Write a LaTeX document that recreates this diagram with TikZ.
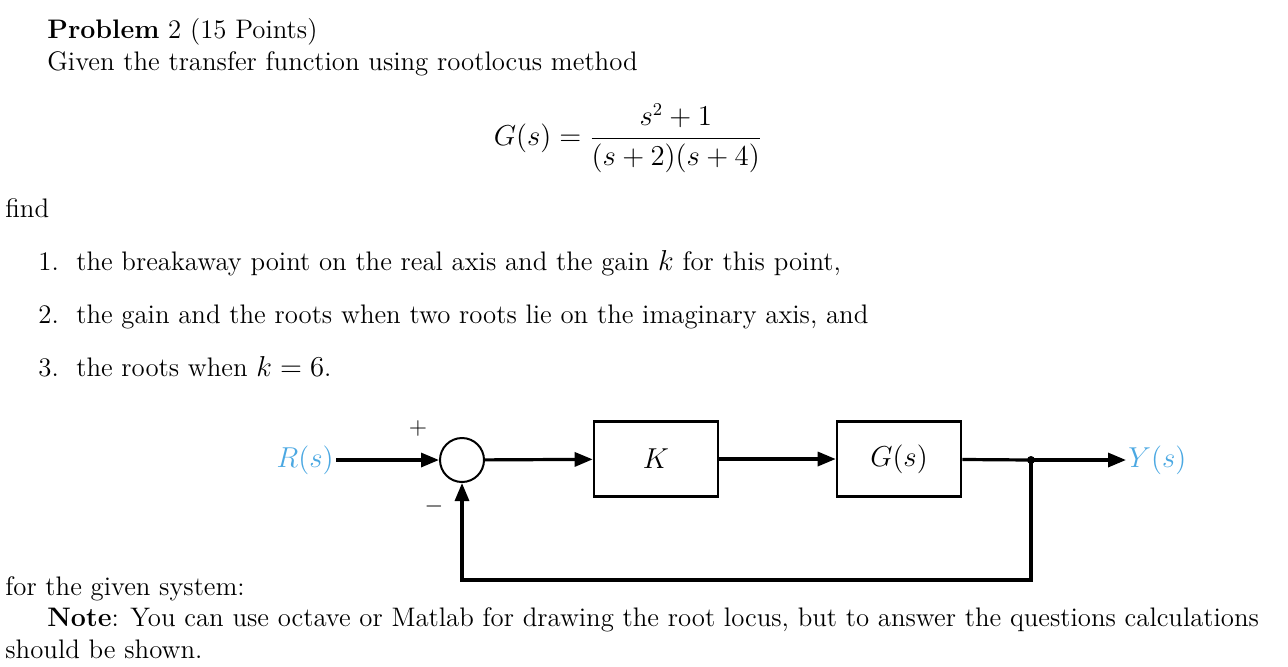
\documentclass[tikz,border=0pt]{standalone}
\usepackage{amsmath}
\usetikzlibrary{arrows.meta}
\definecolor{sigblue}{RGB}{75,168,226}
\begin{document}
\begin{tikzpicture}[x=0.5pt,y=-0.5pt,
  txt/.style={anchor=base west,inner sep=0pt,font=\fontsize{13.4}{15}\selectfont},
  blk/.style={draw,line width=1.3pt,minimum width=62pt,minimum height=37.5pt,inner sep=0pt,font=\fontsize{14}{16}\selectfont},
  sig/.style={line width=1.6pt,-{Triangle[length=9pt,width=7pt]}},
  fb/.style={line width=1.6pt}]
\useasboundingbox (0,0) rectangle (1288,666);
\node[txt] (t1) at (47,38) {\textbf{Problem} 2 (15 Points)};
\node[txt] (t2) at (47,70) {Given the transfer function using rootlocus method};
\node[anchor=center,inner sep=0pt,font=\fontsize{13.4}{15}\selectfont] (eq) at (628,138) {$\displaystyle G(s)=\frac{s^2+1}{(s+2)(s+4)}$};
\node[txt] (t3) at (5,217) {find};
\node[txt] (n1) at (38,270) {1.\ \ the breakaway point on the real axis and the gain $k$ for this point,};
\node[txt] (n2) at (38,323) {2.\ \ the gain and the roots when two roots lie on the imaginary axis, and};
\node[txt] (n3) at (38,376) {3.\ \ the roots when $k=6$.};
\node[txt] (t4) at (5,595) {for the given system:};
\node[txt] (t5) at (47,626) {\textbf{Note}: You can use octave or Matlab for drawing the root locus, but to answer the questions calculations};
\node[txt] (t6) at (5,658) {should be shown.};
% block diagram
\node[font=\fontsize{15}{17}\selectfont,text=sigblue,anchor=east,inner sep=1pt] (R) at (336,460) {$R(s)$};
\node[draw,circle,line width=1pt,minimum size=22pt,inner sep=0pt] (S) at (462,460) {};
\node[font=\fontsize{13}{15}\selectfont] (plus) at (418,428) {$+$};
\node[font=\fontsize{13}{15}\selectfont] (minus) at (434,506) {$-$};
\node[blk] (K) at (656,459) {$K$};
\node[blk] (G) at (899,459) {$G(s)$};
\coordinate (br) at (1031,460);
\node[font=\fontsize{15}{17}\selectfont,text=sigblue,anchor=west,inner sep=1pt] (Y) at (1126,460) {$Y(s)$};
\coordinate (c1) at (1031,580);
\coordinate (c2) at (462,580);
\draw[sig] (R) -- (S);
\draw[sig] (S) -- (K);
\draw[sig] (K) -- (G);
\draw[fb] (G) -- (br);
\draw[sig] (br) -- (Y);
\fill (br) circle (4);
\draw[sig] (br) -- (c1) -- (c2) -- (S);
\end{tikzpicture}
\end{document}
